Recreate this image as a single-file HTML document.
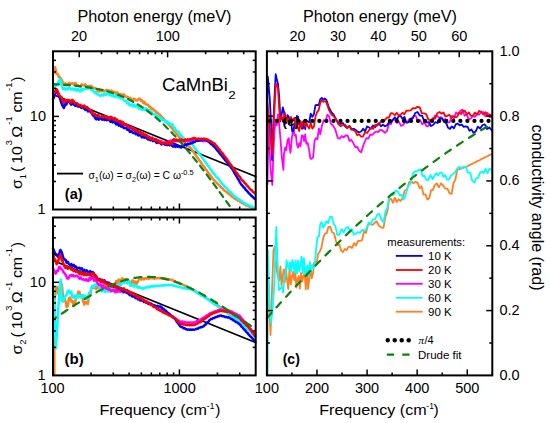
<!DOCTYPE html>
<html><head><meta charset="utf-8"><style>html,body{margin:0;padding:0;background:#fff;width:550px;height:423px;overflow:hidden}svg{display:block}text{font-family:"Liberation Sans",sans-serif;fill:#000}</style></head>
<body><svg width="550" height="423" viewBox="0 0 550 423" font-family="Liberation Sans, sans-serif">
<rect width="550" height="423" fill="#fff"/>
<g id="curves"><polyline points="53.0,94.5 255.7,176.5" fill="none" stroke="#000" stroke-width="1.8" stroke-linejoin="round" stroke-linecap="round" /><polyline points="53.0,74.5 54.0,71.3 55.1,67.3 56.5,73.8 57.7,73.9 59.0,77.3 60.2,77.5 61.7,79.9 63.1,83.3 64.2,84.4 65.3,83.3 66.4,85.3 67.5,84.7 68.8,83.0 70.0,83.5 71.2,83.8 72.3,83.1 73.5,84.5 74.7,83.3 75.8,83.3 76.9,85.8 78.0,85.2 79.1,86.2 80.4,86.5 81.7,84.4 83.0,85.0 84.2,85.8 85.4,84.4 86.6,87.1 87.8,86.2 88.9,86.1 90.0,86.8 91.1,85.9 92.2,86.9 93.6,88.6 95.0,88.0 96.5,89.0 98.0,91.3 99.2,91.6 100.4,90.4 101.7,91.2 102.9,90.3 104.1,91.3 105.3,90.5 106.5,89.9 107.7,91.2 108.9,90.4 110.1,91.5 111.3,90.5 112.5,91.3 113.7,92.3 114.9,92.0 116.2,93.8 117.4,92.4 118.6,94.6 119.8,94.2 121.1,94.2 122.4,96.3 123.7,94.4 125.0,95.9 126.3,97.0 127.6,96.8 128.9,99.0 130.2,97.8 131.5,99.5 132.6,100.3 133.7,98.8 134.8,98.9 135.9,100.3 137.4,100.6 138.8,98.8 139.9,98.7 141.1,101.0 142.2,100.5 143.4,103.2 144.5,101.9 145.7,104.5 146.8,104.6 148.0,104.7 149.2,106.7 150.4,106.9 151.6,109.2 152.8,108.7 153.9,110.4 155.1,110.6 156.3,112.5 157.5,112.6 158.7,114.1 159.9,114.8 161.1,116.0 162.4,117.7 163.6,118.6 164.9,120.4 166.1,121.4 167.4,123.1 168.6,124.3 169.8,125.7 171.0,127.3 172.2,128.4 173.5,130.4 174.7,131.3 175.9,133.0 177.1,134.6 178.3,135.8 179.6,137.5 180.8,138.5 182.0,140.5 183.2,141.7 184.5,142.6 185.8,144.2 187.1,144.9 188.3,146.3 189.6,146.9 190.9,148.3 192.1,150.2 193.3,151.5 194.5,153.5 195.7,154.9 196.9,157.0 198.1,158.4 199.3,160.4 200.5,161.6 201.7,163.5 202.9,165.5 204.1,166.6 205.3,168.8 206.5,170.1 207.8,172.1 209.0,173.5 210.2,175.4 211.4,176.7 212.6,178.7 213.8,180.1 215.0,181.0 216.2,182.5 217.4,183.4 218.7,184.9 219.9,185.8 221.1,187.4 222.3,188.2 223.5,189.6 224.7,190.8 225.9,191.4 227.1,192.6 228.3,193.4 229.5,194.5 230.7,195.2 231.9,196.6 233.1,197.1 234.3,198.3 235.5,199.3 236.7,199.5 237.9,200.6 239.1,200.9 240.4,202.1 241.6,202.6 242.8,203.4 244.0,204.0 245.2,204.8 246.4,205.6 247.6,205.7 248.9,206.5 250.1,206.7 251.3,207.6 252.6,207.9 253.8,208.6 255.0,209.0" fill="none" stroke="#ff8020" stroke-width="2.5" stroke-linejoin="round" stroke-linecap="round" /><polyline points="53.0,87.6 54.2,88.2 55.3,85.0 56.5,85.5 57.7,83.6 59.0,80.8 60.2,78.9 61.7,85.1 63.1,89.1 64.3,88.0 65.5,89.8 66.8,88.2 68.0,89.5 69.2,87.6 70.4,88.4 71.6,89.6 72.9,88.6 74.1,90.0 75.4,88.9 76.6,90.9 77.9,88.9 79.1,90.5 80.3,91.4 81.5,89.1 82.6,90.3 83.8,88.8 85.0,89.0 86.1,88.9 87.2,88.0 88.2,88.7 89.3,87.6 90.4,87.9 91.4,90.1 92.5,89.2 93.6,91.3 94.8,92.9 96.0,92.2 97.1,94.4 98.3,94.5 99.5,95.6 100.7,95.9 102.0,94.6 103.2,95.5 104.5,93.1 105.7,95.0 107.0,93.4 108.2,93.5 109.4,95.1 110.6,93.4 111.8,95.9 113.1,94.3 114.3,96.9 115.5,96.4 116.7,95.6 117.9,97.5 119.1,95.9 120.3,98.5 121.5,97.2 122.7,97.8 123.8,100.4 125.0,101.0 126.2,100.9 127.3,103.5 128.5,102.9 129.6,105.3 130.8,105.4 132.0,104.4 133.1,106.4 134.3,104.8 135.4,106.6 136.6,106.1 137.7,105.7 138.8,108.7 139.9,107.6 141.0,109.0 142.2,109.8 143.3,107.8 144.5,110.0 145.6,108.3 146.8,109.0 148.0,110.3 149.2,110.1 150.4,112.5 151.7,112.0 152.9,114.4 154.1,114.1 155.3,114.4 156.6,116.9 157.8,116.0 159.1,118.6 160.3,117.3 161.6,119.8 162.8,119.9 164.0,119.8 165.3,122.0 166.5,121.0 167.8,123.0 169.0,122.6 170.3,124.4 171.5,124.3 172.7,124.6 173.9,128.0 175.0,128.3 176.2,131.1 177.4,131.5 178.6,131.8 179.9,135.1 181.1,134.9 182.4,137.3 183.6,137.6 184.9,139.6 186.1,140.3 187.3,140.7 188.5,141.8 189.7,141.9 190.9,143.0 192.1,144.7 193.3,145.9 194.5,148.0 195.7,149.1 196.9,150.9 198.1,152.0 199.3,154.1 200.5,155.1 201.7,157.0 202.9,158.8 204.1,160.2 205.3,162.2 206.5,163.5 207.8,165.5 209.0,166.8 210.2,168.9 211.4,170.2 212.6,172.2 213.8,173.7 215.0,174.9 216.2,176.8 217.4,177.9 218.7,179.5 219.9,180.6 221.1,182.5 222.3,183.7 223.5,185.2 224.7,186.8 225.9,187.5 227.1,188.9 228.3,189.9 229.5,191.5 230.7,192.2 231.9,193.8 233.1,194.7 234.3,196.1 235.5,197.0 236.7,197.6 237.9,198.9 239.1,199.2 240.4,200.6 241.6,200.9 242.8,202.3 244.0,202.6 245.2,203.7 246.4,204.4 247.6,204.7 248.9,205.5 250.1,205.7 251.3,206.5 252.6,206.8 253.8,207.7 255.0,208.0" fill="none" stroke="#00ffff" stroke-width="2.5" stroke-linejoin="round" stroke-linecap="round" /><polyline points="53.0,97.8 54.5,95.4 56.0,92.0 57.0,91.6 58.0,93.0 59.5,97.2 61.0,100.0 62.5,101.6 64.0,105.0 65.3,104.6 66.7,102.0 68.0,101.0 69.2,101.7 70.4,100.6 71.6,102.8 72.8,102.1 74.0,103.0 75.2,105.0 76.4,103.4 77.6,106.0 78.8,104.6 80.0,106.0 81.1,107.4 82.3,106.4 83.4,108.2 84.6,106.5 85.7,109.0 86.9,107.5 88.0,109.0 89.2,111.2 90.4,111.1 91.6,113.7 92.8,112.9 94.0,115.0 95.2,115.9 96.3,115.4 97.5,117.2 98.7,115.6 99.8,117.7 101.0,117.0 102.2,116.0 103.4,118.5 104.7,116.4 105.9,118.6 107.1,117.0 108.3,119.1 109.6,117.3 110.8,120.0 112.0,119.0 113.2,119.2 114.4,120.5 115.5,120.2 116.7,122.4 117.9,121.0 119.1,123.2 120.3,122.2 121.5,124.1 122.6,123.3 123.8,125.1 125.0,125.0 126.2,124.8 127.5,127.2 128.8,125.8 130.0,128.6 131.2,127.1 132.5,130.1 133.8,128.4 135.0,131.3 136.2,130.6 137.5,132.8 138.8,131.1 140.0,133.0 141.2,134.7 142.5,133.3 143.8,135.7 145.0,134.9 146.2,137.0 147.5,135.7 148.8,137.6 150.0,137.4 151.2,139.3 152.5,137.6 153.8,139.8 155.0,140.0 156.2,139.3 157.5,141.4 158.8,140.7 160.0,142.0 161.2,140.9 162.5,143.4 163.8,142.3 165.0,143.0 166.3,143.3 167.6,141.7 168.9,142.4 170.2,140.4 171.5,140.5 172.7,141.6 173.8,139.4 174.9,141.4 176.1,139.5 177.2,141.3 178.4,140.5 179.6,141.7 180.7,140.6 181.8,141.4 183.0,141.0 184.2,140.2 185.4,141.5 186.6,140.2 187.8,140.7 189.0,139.3 190.2,140.6 191.4,138.9 192.6,140.8 193.8,139.1 195.0,139.5 196.2,140.2 197.4,139.2 198.5,140.6 199.7,139.4 200.9,140.8 202.1,139.7 203.3,141.3 204.5,140.0 205.6,141.2 206.8,140.2 208.0,141.0 209.2,142.0 210.3,142.0 211.5,143.8 212.7,143.2 213.8,144.9 215.0,145.0" fill="none" stroke="#ff00ff" stroke-width="2.5" stroke-linejoin="round" stroke-linecap="round" /><polyline points="53.0,99.3 54.2,96.5 55.3,92.1 56.5,89.1 57.6,92.8 58.7,94.9 59.9,98.0 61.0,102.0 62.4,105.4 63.8,108.0 65.0,104.8 66.3,104.5 67.5,100.7 68.8,100.6 70.0,103.0 71.3,104.6 72.7,103.4 74.0,104.4 75.3,105.8 76.5,104.8 77.8,106.5 79.1,106.5 80.3,106.5 81.5,107.8 82.8,106.3 84.0,108.0 85.3,109.9 86.7,108.3 88.0,111.4 89.3,110.9 90.7,111.5 92.0,113.0 93.0,115.4 94.1,115.5 95.1,118.2 96.3,119.4 97.5,117.1 98.8,119.7 100.0,118.5 101.2,118.3 102.3,119.8 103.5,118.0 104.7,120.0 105.9,118.8 107.0,120.2 108.2,119.6 109.3,119.7 110.5,121.8 111.6,119.8 112.7,122.4 113.9,121.4 115.0,122.5 116.2,124.4 117.5,123.0 118.8,125.7 120.0,124.0 121.2,126.7 122.5,125.8 123.8,128.1 125.0,127.9 126.2,127.9 127.4,129.8 128.7,129.5 129.9,131.9 131.1,131.3 132.3,132.3 133.5,133.1 134.7,132.4 135.9,134.3 137.1,133.4 138.3,135.5 139.5,135.2 140.7,135.1 141.9,137.4 143.2,136.2 144.4,137.8 145.6,137.2 146.8,138.1 148.0,139.5 149.2,138.5 150.4,140.2 151.7,139.0 152.9,141.1 154.1,141.0 155.3,140.6 156.6,143.0 157.8,141.9 159.1,143.0 160.3,142.6 161.6,144.5 162.8,143.9 164.0,143.3 165.1,144.8 166.2,143.9 167.4,145.1 168.6,144.2 169.7,145.4 170.8,144.4 172.0,145.5 173.1,146.7 174.3,144.9 175.4,147.0 176.6,145.3 177.7,146.8 178.9,146.4 180.0,147.0 181.2,147.5 182.5,145.4 183.7,146.1 185.0,144.4 186.2,145.4 187.5,143.7 188.7,143.9 189.9,143.8 191.2,142.7 192.4,142.9 193.7,141.9 194.9,141.9 196.2,140.6 197.4,140.7 198.7,140.8 199.9,140.2 201.2,140.2 202.5,139.7 203.7,140.1 205.0,139.5 206.1,139.9 207.2,140.9 208.3,141.3 209.6,142.4 210.9,144.0 212.2,144.7 213.5,146.1 214.8,147.2 216.0,148.7 217.3,150.4 218.5,151.7 219.8,153.6 221.0,154.8 222.3,156.5 223.5,158.0 224.7,159.4 226.0,161.2 227.2,162.4 228.5,164.3 229.7,165.6 231.0,167.6 232.2,168.9 233.4,170.9 234.7,173.5 235.9,175.2 237.2,177.6 238.4,179.5 239.7,181.9 240.9,184.0 242.1,185.3 243.4,187.0 244.6,188.0 245.9,190.0 247.1,191.0 248.4,192.6 249.6,194.0 250.7,194.9 251.8,196.1 252.8,196.9 253.9,198.1 255.0,199.0" fill="none" stroke="#0000ff" stroke-width="2.5" stroke-linejoin="round" stroke-linecap="round" /><polyline points="53.0,93.5 54.0,93.3 55.0,91.0 56.1,89.6 57.3,90.5 58.8,94.7 60.2,96.4 61.4,96.9 62.6,101.4 63.8,102.2 65.0,100.1 66.3,101.1 67.5,100.0 68.8,99.9 70.0,101.5 71.1,102.6 72.2,99.9 73.3,100.7 74.7,103.2 76.0,103.0 77.0,103.3 78.1,105.2 79.1,105.1 80.4,104.8 81.7,106.6 83.0,106.0 84.2,105.6 85.4,107.3 86.6,107.0 87.8,108.0 88.9,109.6 90.0,110.0 91.2,110.0 92.4,113.7 93.6,113.8 94.7,113.7 95.9,115.8 97.0,115.0 98.3,115.1 99.6,117.1 100.9,116.7 102.2,116.5 103.5,117.4 104.7,116.1 106.0,117.5 107.3,118.1 108.6,117.3 109.9,119.3 111.2,116.8 112.5,118.2 113.6,119.3 114.7,118.0 115.8,120.7 116.9,119.4 118.0,121.0 119.2,122.0 120.3,120.8 121.5,123.6 122.7,121.9 123.8,125.0 125.0,124.3 126.2,124.4 127.4,126.4 128.7,126.0 129.9,127.6 131.1,127.6 132.3,128.6 133.5,129.8 134.7,129.0 135.9,130.7 137.1,130.1 138.3,132.3 139.5,132.3 140.7,132.3 141.9,134.6 143.2,133.4 144.4,135.3 145.6,134.6 146.8,135.9 148.0,137.5 149.2,136.8 150.4,138.9 151.7,138.0 152.9,139.9 154.1,139.5 155.3,139.0 156.5,141.0 157.8,140.3 159.0,142.6 160.2,141.8 161.4,143.2 162.7,143.5 163.9,142.9 165.2,143.6 166.4,142.0 167.7,143.6 169.0,142.2 170.2,144.3 171.5,143.2 173.0,140.3 174.3,139.2 175.6,140.8 176.8,139.8 178.1,140.9 179.4,139.5 180.6,140.6 181.9,139.6 183.2,140.3 184.3,141.0 185.4,139.4 186.5,140.3 187.6,139.3 188.7,140.0 189.9,139.8 191.1,138.9 192.4,139.3 193.6,137.9 194.8,138.1 196.1,138.9 197.4,139.1 198.7,138.5 199.9,139.3 201.2,138.7 202.5,139.1 203.7,138.7 205.0,138.8 206.1,139.3 207.2,139.5 208.3,140.0 209.6,141.0 210.9,141.3 212.2,142.4 213.5,143.0 214.8,143.9 216.0,145.8 217.3,146.8 218.5,148.7 219.8,150.0 221.0,151.9 222.3,153.0 223.5,154.8 224.7,156.7 226.0,158.0 227.2,160.0 228.5,161.3 229.7,163.4 231.0,164.8 232.2,166.7 233.4,168.7 234.7,170.0 235.9,172.1 237.2,173.3 238.4,175.5 239.7,176.7 240.9,178.7 242.1,180.2 243.4,181.3 244.6,183.0 245.9,184.0 247.1,185.8 248.4,186.9 249.6,188.5 250.7,189.8 251.8,190.2 252.8,191.8 253.9,192.3 255.0,193.5" fill="none" stroke="#ff0000" stroke-width="2.5" stroke-linejoin="round" stroke-linecap="round" /><polyline points="53.0,84.2 54.1,84.2 55.2,84.3 56.3,84.3 57.3,84.4 58.4,84.4 59.5,84.5 60.6,84.6 61.7,84.6 62.8,84.7 63.9,84.8 65.0,84.9 66.0,84.9 67.1,85.0 68.2,85.1 69.3,85.2 70.4,85.3 71.5,85.4 72.6,85.5 73.7,85.6 74.7,85.7 75.8,85.8 76.9,85.9 78.0,86.0 79.1,86.1 80.2,86.2 81.3,86.4 82.4,86.5 83.4,86.6 84.5,86.8 85.6,86.9 86.7,87.1 87.8,87.3 88.9,87.4 90.0,87.6 91.0,87.8 92.1,88.0 93.2,88.1 94.3,88.3 95.4,88.5 96.5,88.8 97.6,89.0 98.7,89.2 99.7,89.4 100.8,89.7 101.9,89.9 103.0,90.2 104.1,90.5 105.2,90.7 106.3,91.0 107.4,91.3 108.4,91.6 109.5,92.0 110.6,92.3 111.7,92.6 112.8,93.0 113.9,93.3 115.0,93.7 116.0,94.1 117.1,94.5 118.2,94.9 119.3,95.3 120.4,95.7 121.5,96.2 122.6,96.6 123.7,97.1 124.7,97.6 125.8,98.0 126.9,98.6 128.0,99.1 129.1,99.6 130.2,100.2 131.3,100.7 132.4,101.3 133.4,101.9 134.5,102.5 135.6,103.1 136.7,103.8 137.8,104.4 138.9,105.1 140.0,105.8 141.1,106.5 142.1,107.2 143.2,107.9 144.3,108.7 145.4,109.4 146.5,110.2 147.6,111.0 148.7,111.8 149.7,112.6 150.8,113.5 151.9,114.3 153.0,115.2 154.1,116.1 155.2,117.0 156.3,117.9 157.4,118.9 158.4,119.8 159.5,120.8 160.6,121.8 161.7,122.8 162.8,123.8 163.9,124.8 165.0,125.8 166.1,126.9 167.1,128.0 168.2,129.0 169.3,130.1 170.4,131.2 171.5,132.4 172.6,133.5 173.7,134.7 174.8,135.8 175.8,137.0 176.9,138.2 178.0,139.4 179.1,140.6 180.2,141.8 181.3,143.0 182.4,144.3 183.4,145.5 184.5,146.8 185.6,148.1 186.7,149.4 187.8,150.7 188.9,152.0 190.0,153.3 191.1,154.6 192.1,156.0 193.2,157.3 194.3,158.6 195.4,160.0 196.5,161.4 197.6,162.8 198.7,164.1 199.8,165.5 200.8,166.9 201.9,168.3 203.0,169.7 204.1,171.2 205.2,172.6 206.3,174.0 207.4,175.4 208.4,176.9 209.5,178.3 210.6,179.8 211.7,181.2 212.8,182.7 213.9,184.2 215.0,185.6 216.1,187.1 217.1,188.6 218.2,190.1 219.3,191.6 220.4,193.1 221.5,194.6 222.6,196.1 223.7,197.6 224.8,199.1 225.8,200.6 226.9,202.1 228.0,203.6 229.1,205.2 230.2,206.7 231.3,208.2" fill="none" stroke="#0f800f" stroke-width="2.2" stroke-linejoin="round" stroke-linecap="round" stroke-dasharray="6,5" stroke-linecap="butt"/><line x1="57" y1="173.6" x2="83" y2="173.6" stroke="#000" stroke-width="1.8"/><text x="88.5" y="179" font-size="10.6" textLength="105" lengthAdjust="spacingAndGlyphs">σ<tspan font-size="7.5" dy="2.5">1</tspan><tspan dy="-2.5">(ω) = σ</tspan><tspan font-size="7.5" dy="2.5">2</tspan><tspan dy="-2.5">(ω) = C ω</tspan><tspan font-size="7.5" dy="-4.5">-0.5</tspan></text><polyline points="53.0,260.5 255.7,342.5" fill="none" stroke="#000" stroke-width="1.8" stroke-linejoin="round" stroke-linecap="round" /><polyline points="54.3,374.0 54.3,330.0 54.5,300.0 55.9,289.2 57.1,286.8 58.3,293.9 59.5,290.2 60.7,282.1 61.9,285.1 63.0,296.9 64.2,298.7 65.4,300.6 66.6,307.0 67.8,306.2 68.9,298.1 70.1,297.5 71.3,301.6 72.5,300.7 73.7,305.8 74.9,305.0 76.1,295.5 77.2,296.2 78.4,291.6 79.6,292.3 80.8,297.3 81.9,295.4 83.1,301.0 84.3,304.6 85.5,301.7 86.7,303.4 87.9,303.8 89.1,293.1 90.2,296.1 91.4,287.5 92.6,286.8 93.8,288.0 95.0,286.0 96.2,289.1 97.3,285.9 98.5,288.1 99.7,285.4 100.9,287.6 102.1,286.8 103.3,285.0 104.4,289.4 105.6,284.5 106.8,290.2 108.0,285.7 109.2,290.7 110.3,286.3 111.5,289.2 112.7,290.0 113.9,285.3 115.1,289.2 116.2,280.9 117.4,286.3 118.6,279.4 119.8,282.5 121.0,279.7 122.3,278.2 123.7,280.5 125.0,279.0 126.2,279.3 127.5,283.1 128.8,280.8 130.0,283.1 131.1,284.1 132.2,280.4 133.3,280.6 134.4,283.4 135.5,281.5 136.6,284.0 137.8,281.8 139.1,279.0 140.3,278.5 141.5,279.7 142.7,278.2 143.9,279.5 145.0,278.1 146.2,278.7 147.4,277.9 148.6,278.9 149.8,278.2 151.0,277.9 152.1,278.4 153.3,278.0 154.4,278.7 155.6,277.8 156.8,278.3 157.9,278.1 159.1,278.3 160.2,278.1 161.4,278.2 162.7,278.7 163.9,278.5 165.2,279.0 166.4,278.8 167.7,279.3 168.9,279.2 170.2,279.7 171.4,279.8 172.6,280.1 173.7,280.9 174.9,281.1 176.0,281.9 177.2,282.2 178.4,283.1 179.5,283.0 180.7,283.9 181.8,284.0 183.0,284.8 184.2,285.5 185.3,285.8 186.5,286.8 187.6,286.9 188.8,287.8 190.0,288.0 191.1,289.0 192.3,289.3 193.4,290.3 194.6,290.6 195.8,291.2 196.9,292.2 198.1,292.7 199.2,293.6 200.4,294.1 201.5,295.1 202.7,295.5 203.8,296.6 205.0,297.2 206.2,297.8 207.3,299.0 208.5,299.3 209.7,300.4 210.8,300.7 212.0,301.8 213.2,302.4 214.3,303.5 215.5,304.0 216.7,304.5 217.9,305.7 219.0,306.3 220.2,307.4 221.4,307.7 222.6,308.9 223.8,309.3 224.9,310.7 226.1,311.0 227.3,312.0 228.5,313.0 229.7,313.5 230.9,314.5 232.1,314.9 233.2,316.1 234.4,316.6 235.6,317.7 236.8,318.1 238.0,319.4 239.2,320.0 240.4,321.0 241.6,322.3 242.7,323.1 243.9,324.5 245.1,325.4 246.3,326.8 247.5,327.4 248.6,329.0 249.8,329.8 251.0,331.0 252.3,332.9 253.7,334.2 255.0,336.0" fill="none" stroke="#ff8020" stroke-width="2.5" stroke-linejoin="round" stroke-linecap="round" /><polyline points="53.5,286.8 54.7,322.3 55.9,348.4 57.1,329.7 58.3,308.1 59.5,292.1 60.7,279.7 61.8,301.0 63.0,301.6 64.2,298.7 65.4,295.9 66.6,295.1 67.7,291.3 68.9,290.4 70.1,293.2 71.3,291.9 72.5,297.5 73.7,297.5 74.9,295.7 76.1,298.6 77.2,295.2 78.4,297.4 79.6,295.2 80.8,296.3 82.0,297.5 83.2,295.0 84.3,298.1 85.5,296.0 86.7,298.9 87.9,298.7 89.1,293.8 90.2,293.3 91.4,287.8 92.6,285.7 93.8,287.3 94.9,284.6 96.1,285.3 97.3,284.5 98.5,283.6 99.7,288.2 100.8,287.5 102.0,291.4 103.2,288.4 104.4,291.6 105.6,291.9 106.8,289.9 108.0,291.4 109.2,289.5 110.3,291.6 111.5,289.1 112.7,291.1 113.9,289.2 115.1,287.8 116.3,288.1 117.5,284.8 118.7,286.7 119.8,283.7 121.0,285.2 122.2,281.8 123.4,282.1 124.6,283.0 125.9,281.4 127.1,283.1 128.3,281.5 129.4,281.1 130.5,285.9 131.6,285.6 132.8,284.6 134.1,286.7 135.3,285.5 136.6,286.4 137.9,287.9 139.2,286.5 140.6,288.3 141.9,288.0 143.2,289.0 144.9,287.4 146.1,287.7 147.3,286.6 148.5,287.7 149.7,286.3 150.9,286.8 152.1,286.0 153.3,286.7 154.5,285.9 155.7,286.3 156.9,285.7 158.1,285.8 159.3,285.9 160.5,285.4 161.7,285.7 162.9,285.3 164.1,285.5 165.4,285.1 166.6,285.4 167.8,285.1 169.0,285.3 170.2,284.9 171.4,285.0 172.6,285.4 173.7,285.4 174.9,286.0 176.0,286.1 177.2,286.7 178.4,286.5 179.5,287.3 180.7,287.1 181.8,287.8 183.0,288.0 184.3,287.9 185.5,288.6 186.8,288.5 188.0,289.1 189.3,288.8 190.5,289.3 191.8,289.5 193.0,290.1 194.2,291.2 195.4,291.5 196.6,292.5 197.8,293.0 198.9,293.8 200.1,294.3 201.3,295.5 202.5,295.6 203.7,296.6 204.9,297.6 206.1,298.2 207.2,299.2 208.4,299.7 209.6,301.0 210.8,301.4 212.0,302.5 213.1,303.1 214.3,304.2 215.5,304.9 216.7,305.5 217.9,306.7 219.0,307.1 220.2,308.5 221.4,308.9 222.6,309.9 223.8,310.4 224.9,311.6 226.1,312.0 227.3,313.1 228.5,314.1 229.7,314.5 230.9,315.8 232.1,316.3 233.2,317.4 234.4,318.0 235.6,319.1 236.8,319.5 238.0,320.7 239.2,321.4 240.4,322.2 241.6,323.7 242.7,324.5 243.9,325.8 245.1,326.5 246.3,328.0 247.5,328.7 248.6,330.2 249.8,330.7 251.0,332.1 252.3,334.0 253.7,335.2 255.0,337.0" fill="none" stroke="#00ffff" stroke-width="2.5" stroke-linejoin="round" stroke-linecap="round" /><polyline points="53.0,268.0 54.4,271.4 55.7,273.6 56.8,270.8 57.9,271.3 58.9,267.2 60.0,266.8 61.1,268.9 62.2,269.4 63.4,272.1 64.5,273.2 65.9,275.3 67.3,278.6 68.5,278.5 69.7,275.8 70.9,275.0 72.1,276.1 73.2,275.0 74.3,276.4 75.5,276.0 76.8,275.6 78.2,276.8 79.3,278.7 80.5,277.2 81.6,279.1 82.7,279.5 83.8,279.2 85.0,280.4 86.2,279.0 87.3,280.5 88.4,281.0 89.5,278.0 90.7,279.6 91.8,277.7 93.0,277.6 94.1,280.8 95.2,279.4 96.4,281.4 97.8,283.7 99.2,285.0 100.4,284.4 101.6,286.8 102.8,285.5 104.0,287.9 105.2,286.8 106.4,288.7 107.6,287.9 108.8,289.7 110.0,289.2 111.2,291.2 112.4,290.6 113.6,289.7 114.9,292.1 116.1,290.1 117.3,292.0 118.5,290.3 119.8,291.8 121.0,291.6 122.2,290.8 123.4,292.5 124.6,291.6 125.8,292.6 127.0,291.5 128.2,292.9 129.4,292.5 130.6,292.4 131.8,294.5 132.9,293.7 134.1,295.3 135.3,294.9 136.5,296.6 137.6,296.4 138.8,297.7 140.0,298.0 141.2,298.3 142.5,299.7 143.8,299.6 145.0,301.8 146.2,301.3 147.5,303.1 148.8,302.5 150.0,304.0 151.2,304.8 152.5,305.0 153.8,306.4 155.0,305.9 156.2,307.6 157.5,307.6 158.8,308.7 160.0,309.0 161.2,309.3 162.5,310.9 163.8,310.9 165.0,312.1 166.2,312.4 167.5,313.7 168.8,314.0 170.0,315.0 171.2,316.0 172.5,316.5 173.8,317.8 175.0,318.5 176.2,319.0 177.5,320.1 178.8,320.5 180.0,321.4 181.2,321.8 182.4,321.6 183.6,322.1 184.7,322.0 185.9,322.5 187.1,322.6 188.3,322.5 189.5,322.7 190.6,322.4 191.8,322.7 193.0,322.5 194.2,322.6 195.4,322.1 196.6,321.2 197.8,321.0 198.9,320.1 200.1,319.8 201.3,319.1 202.5,318.2 203.7,317.7 204.9,316.8 206.1,316.2 207.2,315.1 208.4,314.7 209.6,313.7 210.8,313.1 212.0,312.8 213.2,312.0 214.3,311.9 215.5,311.2 216.7,311.1 217.8,310.2 219.0,310.1 220.2,309.6 221.4,309.6 222.6,310.1 223.8,309.8 224.9,310.4 226.1,310.2 227.3,310.7 228.5,310.5 229.7,310.8 230.9,311.5 232.1,311.8 233.3,312.8 234.4,312.9 235.6,313.9 236.8,314.1 238.0,315.2 239.2,315.5 240.4,316.7 241.5,318.4 242.7,319.4 243.9,321.0 245.1,322.1 246.2,323.6 247.4,324.7 248.6,326.2 249.9,328.0 251.2,329.6 252.4,331.6 253.7,333.0 255.0,335.0" fill="none" stroke="#ff00ff" stroke-width="2.5" stroke-linejoin="round" stroke-linecap="round" /><polyline points="53.0,248.1 54.4,251.8 55.7,254.7 56.7,254.5 57.6,256.6 59.0,254.4 60.4,250.0 61.8,252.4 63.2,257.6 64.3,259.5 65.5,259.7 66.6,262.7 67.8,261.8 68.9,264.2 70.1,265.3 71.3,264.1 72.5,266.4 73.7,264.9 74.8,267.0 76.0,266.5 77.2,268.8 78.4,268.0 79.6,267.8 80.8,269.5 81.9,268.2 83.1,270.8 84.3,269.9 85.5,271.7 86.6,270.2 87.8,271.7 88.9,272.4 90.1,271.1 91.2,272.7 92.4,271.9 93.5,272.7 94.8,275.0 96.0,276.0 97.3,278.4 98.5,280.2 99.6,278.7 100.8,281.2 101.9,279.7 103.1,281.8 104.3,280.3 105.4,282.9 106.6,282.1 107.8,283.8 108.9,282.6 110.1,284.4 111.2,284.1 112.4,285.0 113.7,286.8 114.9,285.5 116.2,287.4 117.4,286.9 118.7,288.7 120.0,287.8 121.2,290.2 122.5,289.8 123.7,291.8 125.0,291.4 126.2,291.8 127.4,293.3 128.6,293.3 129.7,295.2 130.9,294.6 132.1,296.4 133.3,296.4 134.5,296.7 135.7,298.2 136.9,297.4 138.0,299.4 139.2,298.8 140.4,300.5 141.6,300.5 142.8,300.5 143.9,302.0 145.1,301.7 146.3,302.9 147.5,302.5 148.6,304.0 149.8,303.8 151.1,303.5 152.3,304.8 153.6,304.9 154.8,305.5 156.1,306.3 157.4,305.8 158.8,306.6 160.1,306.4 161.4,307.1 162.5,308.5 163.6,308.8 164.8,310.2 165.9,310.7 167.0,312.3 168.1,312.9 169.4,313.9 170.7,315.3 172.1,316.2 173.4,317.6 174.7,318.5 176.0,320.3 177.3,322.5 178.7,324.1 180.0,326.2 181.2,326.9 182.4,327.2 183.6,328.2 184.7,328.3 185.9,329.2 187.1,329.7 188.3,329.4 189.5,329.8 190.6,329.6 191.8,329.8 193.0,329.6 194.2,329.7 195.4,329.4 196.6,328.7 197.8,328.7 198.9,327.8 200.1,327.6 201.3,326.9 202.5,326.9 203.7,326.2 204.9,324.9 206.1,324.1 207.2,322.5 208.4,321.7 209.6,320.1 210.8,319.1 212.0,318.9 213.2,318.0 214.3,317.9 215.5,317.0 216.7,317.0 217.8,316.2 219.0,316.2 220.2,315.5 221.4,315.6 222.6,316.3 223.8,316.3 224.9,317.0 226.1,316.8 227.3,317.4 228.5,317.3 229.7,317.9 230.9,318.8 232.1,319.2 233.3,320.2 234.4,320.8 235.6,321.7 236.8,322.1 238.0,323.2 239.2,323.8 240.4,325.0 241.5,326.6 242.7,327.6 243.9,329.3 245.1,330.2 246.2,331.9 247.4,332.9 248.6,334.4 249.9,335.9 251.2,336.9 252.4,338.5 253.7,339.6 255.0,341.0" fill="none" stroke="#0000ff" stroke-width="2.5" stroke-linejoin="round" stroke-linecap="round" /><polyline points="53.0,252.8 54.2,258.1 55.4,260.1 56.6,264.2 57.9,262.2 59.1,257.4 60.4,254.7 61.7,260.0 62.9,262.0 64.2,266.1 65.4,267.9 66.6,266.0 67.7,268.8 68.9,268.0 70.1,267.1 71.2,269.6 72.4,268.9 73.6,271.2 74.7,270.1 75.9,271.8 77.0,271.2 78.2,272.3 79.3,273.9 80.5,271.7 81.6,274.5 82.8,273.1 83.9,275.3 85.0,273.5 86.2,275.2 87.3,275.0 88.4,273.9 89.5,275.0 90.5,273.6 91.6,274.4 92.7,273.2 93.8,273.8 94.9,276.6 96.0,275.7 97.1,279.2 98.2,279.5 99.3,279.4 100.5,281.8 101.6,279.9 102.8,282.5 103.9,281.1 105.0,283.2 106.2,283.0 107.3,284.0 108.6,284.9 109.8,283.7 111.1,286.4 112.4,285.9 113.7,285.3 114.9,287.2 116.2,286.3 117.4,288.6 118.7,287.5 120.0,288.6 121.2,288.3 122.5,289.7 123.7,288.3 125.0,289.8 126.2,291.2 127.4,290.3 128.6,292.3 129.7,291.7 130.9,293.9 132.1,292.8 133.3,293.9 134.5,295.0 135.7,294.8 136.9,296.9 138.0,296.3 139.2,298.4 140.4,297.7 141.6,298.9 142.8,300.1 143.9,300.1 145.1,301.8 146.3,301.0 147.5,302.9 148.6,302.9 149.8,303.8 151.1,305.1 152.3,305.1 153.6,306.9 154.8,307.1 155.9,307.4 157.0,309.2 158.1,309.6 159.3,310.0 160.5,310.9 161.7,311.0 162.8,312.4 164.0,312.5 165.2,313.4 166.4,313.8 167.6,314.2 168.8,315.3 170.0,315.5 171.1,316.2 172.3,316.5 173.5,317.5 174.7,317.9 176.0,319.2 177.3,321.1 178.7,322.1 180.0,323.8 181.2,324.2 182.4,324.1 183.6,324.5 184.7,324.5 185.9,324.9 187.1,325.0 188.3,324.8 189.5,325.2 190.6,324.9 191.8,325.2 193.0,324.8 194.2,325.0 195.4,324.6 196.6,323.7 197.8,323.5 198.9,322.3 200.1,322.3 201.3,321.4 202.5,320.2 203.7,319.7 204.9,318.5 206.1,318.0 207.2,316.8 208.4,316.3 209.6,315.1 210.8,314.3 212.0,314.0 213.2,313.1 214.3,313.1 215.5,312.3 216.7,312.3 217.8,311.5 219.0,311.4 220.2,310.8 221.4,310.7 222.6,311.3 223.8,311.1 224.9,311.5 226.1,311.4 227.3,312.0 228.5,311.6 229.7,312.0 230.9,312.8 232.1,313.2 233.3,314.4 234.4,314.8 235.6,316.0 236.8,316.3 238.0,317.2 239.2,317.9 240.4,318.9 241.5,320.5 242.7,321.2 243.9,322.8 245.1,323.5 246.2,325.1 247.4,325.9 248.6,327.3 249.9,329.1 251.2,330.5 252.4,332.6 253.7,334.0 255.0,336.0" fill="none" stroke="#ff0000" stroke-width="2.5" stroke-linejoin="round" stroke-linecap="round" /><polyline points="53.0,319.7 54.1,318.9 55.2,318.2 56.3,317.4 57.3,316.7 58.4,315.9 59.5,315.2 60.6,314.5 61.7,313.7 62.8,313.0 63.9,312.3 65.0,311.5 66.0,310.8 67.1,310.1 68.2,309.4 69.3,308.7 70.4,307.9 71.5,307.2 72.6,306.5 73.7,305.8 74.7,305.1 75.8,304.4 76.9,303.7 78.0,303.1 79.1,302.4 80.2,301.7 81.3,301.0 82.4,300.4 83.4,299.7 84.5,299.1 85.6,298.4 86.7,297.8 87.8,297.1 88.9,296.5 90.0,295.9 91.0,295.2 92.1,294.6 93.2,294.0 94.3,293.4 95.4,292.8 96.5,292.2 97.6,291.6 98.7,291.1 99.7,290.5 100.8,289.9 101.9,289.4 103.0,288.9 104.1,288.3 105.2,287.8 106.3,287.3 107.4,286.8 108.4,286.3 109.5,285.8 110.6,285.3 111.7,284.9 112.8,284.4 113.9,284.0 115.0,283.5 116.0,283.1 117.1,282.7 118.2,282.3 119.3,281.9 120.4,281.6 121.5,281.2 122.6,280.8 123.7,280.5 124.7,280.2 125.8,279.9 126.9,279.6 128.0,279.3 129.1,279.1 130.2,278.8 131.3,278.6 132.4,278.3 133.4,278.1 134.5,277.9 135.6,277.8 136.7,277.6 137.8,277.5 138.9,277.3 140.0,277.2 141.1,277.1 142.1,277.0 143.2,276.9 144.3,276.9 145.4,276.9 146.5,276.8 147.6,276.8 148.7,276.8 149.7,276.9 150.8,276.9 151.9,277.0 153.0,277.0 154.1,277.1 155.2,277.2 156.3,277.3 157.4,277.5 158.4,277.6 159.5,277.8 160.6,278.0 161.7,278.2 162.8,278.4 163.9,278.6 165.0,278.8 166.1,279.1 167.1,279.4 168.2,279.6 169.3,279.9 170.4,280.3 171.5,280.6 172.6,280.9 173.7,281.3 174.8,281.6 175.8,282.0 176.9,282.4 178.0,282.8 179.1,283.2 180.2,283.6 181.3,284.0 182.4,284.5 183.4,284.9 184.5,285.4 185.6,285.9 186.7,286.4 187.8,286.9 188.9,287.4 190.0,287.9 191.1,288.4 192.1,289.0 193.2,289.5 194.3,290.0 195.4,290.6 196.5,291.2 197.6,291.7 198.7,292.3 199.8,292.9 200.8,293.5 201.9,294.1 203.0,294.7 204.1,295.3 205.2,296.0 206.3,296.6 207.4,297.2 208.4,297.9 209.5,298.5 210.6,299.2 211.7,299.8 212.8,300.5 213.9,301.2 215.0,301.8 216.1,302.5 217.1,303.2 218.2,303.9 219.3,304.6 220.4,305.3 221.5,306.0 222.6,306.7 223.7,307.4 224.8,308.1 225.8,308.8 226.9,309.5 228.0,310.2 229.1,310.9 230.2,311.7 231.3,312.4 232.4,313.1 233.5,313.9 234.5,314.6 235.6,315.3 236.7,316.1 237.8,316.8 238.9,317.6 240.0,318.3 241.1,319.0 242.1,319.8 243.2,320.5 244.3,321.3 245.4,322.1 246.5,322.8 247.6,323.6 248.7,324.3 249.8,325.1 250.8,325.9 251.9,326.6 253.0,327.4 254.1,328.2 255.2,328.9" fill="none" stroke="#0f800f" stroke-width="2.2" stroke-linejoin="round" stroke-linecap="round" stroke-dasharray="7,6.6" stroke-dashoffset="3" stroke-linecap="butt"/><polyline points="267.4,375.0 267.4,286.0 269.0,300.0 270.5,335.0 272.0,290.0 273.5,250.0 275.0,246.0 276.5,270.0 278.0,276.0 279.2,280.3 280.4,266.3 281.5,285.1 282.7,276.0 283.8,269.3 284.9,282.3 285.9,267.6 287.0,279.0 288.2,289.0 289.5,269.8 290.8,284.4 292.0,276.0 293.1,271.9 294.2,280.1 295.3,272.2 296.4,287.5 297.5,280.0 298.7,276.0 299.9,288.7 301.0,272.8 302.2,281.6 303.4,276.0 304.6,273.7 305.8,289.2 306.9,267.9 308.1,289.0 309.3,278.6 310.5,268.7 311.8,278.3 313.0,274.0 314.1,262.5 315.2,262.0 316.7,263.5 318.1,253.6 319.6,252.0 321.4,247.8 323.2,237.9 324.9,233.6 326.7,233.2 328.4,226.9 330.2,226.6 332.1,232.2 334.0,233.2 335.9,240.8 337.7,245.3 339.4,244.5 341.2,250.7 343.0,252.1 344.8,248.9 346.6,250.3 348.3,247.2 350.1,246.5 352.1,248.0 354.1,243.1 356.0,245.6 358.0,240.8 360.0,240.8 362.0,240.3 364.0,231.3 366.0,233.0 368.0,224.8 370.0,223.8 372.5,225.0 375.0,222.3 376.8,221.4 378.5,225.2 381.0,227.4 383.5,227.9 385.4,216.7 387.3,211.6 389.2,199.6 391.1,198.8 393.0,202.9 394.9,197.6 396.7,202.1 398.6,199.3 400.5,201.0 402.6,198.1 404.8,190.3 406.9,190.2 409.0,182.6 411.1,181.1 413.3,183.3 415.5,181.8 417.6,182.6 419.6,188.3 421.6,186.4 423.5,194.6 425.5,194.4 427.5,199.6 429.3,198.0 431.1,190.1 432.8,190.1 434.6,185.4 436.7,183.3 438.9,187.3 441.0,183.3 443.1,185.4 445.2,188.6 447.4,188.6 449.5,193.2 451.6,193.9 453.5,183.0 455.4,179.3 457.3,169.8 459.4,169.0 461.6,168.5 463.7,167.6 465.8,167.0 467.8,166.1 469.7,164.9 471.7,164.2 473.6,163.0 475.6,162.2 477.6,160.9 479.5,160.3 481.5,158.9 483.5,158.2 485.4,157.0 487.4,156.4 489.3,155.1 491.3,154.2" fill="none" stroke="#ff8020" stroke-width="1.8" stroke-linejoin="round" stroke-linecap="round" /><polyline points="267.5,375.0 267.5,320.0 267.8,250.0 269.5,300.0 271.0,323.0 272.5,310.0 274.0,290.0 275.5,250.0 276.3,227.0 277.5,262.0 279.0,290.0 282.0,287.0 283.1,292.4 284.3,275.5 285.4,276.6 286.6,260.4 287.7,266.0 288.8,269.0 290.0,262.3 291.1,271.8 292.3,259.8 293.4,264.0 294.6,272.9 295.7,260.6 296.9,273.7 298.1,260.3 299.2,271.3 300.4,265.0 301.6,256.7 302.8,273.2 303.9,258.1 305.1,274.5 306.3,268.0 307.4,265.8 308.6,276.3 309.8,261.9 310.9,272.1 312.1,264.8 313.2,268.0 314.6,266.4 316.0,250.0 317.4,237.6 318.9,236.6 320.3,224.0 321.7,221.9 323.2,227.7 324.6,225.2 326.4,221.1 328.1,223.2 329.9,216.8 331.7,216.7 333.6,224.0 335.4,226.1 337.3,235.1 339.4,234.7 341.6,229.1 343.8,232.6 345.9,228.0 347.9,227.0 349.9,231.2 351.8,228.9 353.8,234.7 355.8,233.7 357.9,232.0 360.1,233.0 362.2,229.8 364.3,230.9 366.4,228.7 368.6,222.5 370.7,224.1 372.8,219.5 375.0,219.4 377.1,214.8 379.3,213.8 381.4,219.6 383.5,222.3 385.4,211.7 387.3,207.9 389.2,196.7 391.3,194.0 393.4,195.3 395.6,190.6 397.7,191.1 399.6,195.2 401.5,194.9 403.4,199.6 405.3,196.6 407.1,188.6 409.0,185.4 410.9,182.7 412.8,174.2 414.7,171.2 416.9,171.3 419.0,169.8 420.8,169.5 422.6,176.1 424.3,175.7 426.1,179.7 428.2,180.1 430.4,175.0 432.5,179.2 434.6,175.5 436.4,173.1 438.1,175.5 439.9,172.6 441.7,172.6 443.5,176.9 445.2,175.2 447.0,179.6 448.8,179.7 450.9,175.6 453.0,174.0 455.1,172.4 457.3,168.4 459.4,166.8 461.6,168.6 463.7,166.7 465.8,167.0 467.9,172.6 470.1,172.6 472.2,180.6 474.3,182.6 476.2,178.3 478.1,177.9 480.0,172.6 481.9,171.5 483.8,173.1 485.6,168.9 487.5,173.2 489.4,168.8 491.3,169.8" fill="none" stroke="#00ffff" stroke-width="1.8" stroke-linejoin="round" stroke-linecap="round" /><polyline points="267.5,184.0 268.6,116.8 269.6,149.0 270.7,170.0 272.3,185.0 273.5,150.0 274.5,131.0 275.7,119.7 276.8,125.4 278.0,114.4 279.2,124.6 280.4,138.1 281.9,158.0 283.4,169.9 283.9,154.7 285.1,147.3 286.3,150.1 287.5,140.4 288.7,138.1 289.6,147.6 290.5,152.8 291.9,137.4 293.4,128.6 294.6,135.6 295.8,134.7 296.9,144.2 298.1,147.6 299.3,143.0 300.5,146.3 301.7,135.5 302.9,135.7 304.1,141.1 305.2,134.5 306.4,143.9 307.6,142.8 309.0,149.2 310.4,158.5 311.8,158.8 313.2,156.9 314.5,141.0 315.9,138.1 317.4,139.2 318.9,128.5 320.3,134.2 321.8,126.3 323.7,120.2 325.5,121.9 327.4,114.6 329.1,116.3 330.9,123.8 332.6,125.0 335.2,129.2 337.8,138.0 339.8,138.6 341.7,136.0 343.7,137.5 345.6,135.4 347.6,135.5 349.5,140.9 351.4,139.9 353.4,143.2 355.3,147.2 357.3,146.9 359.2,150.8 361.2,152.3 363.8,144.0 366.4,138.0 368.3,138.7 370.3,134.5 372.2,134.8 374.2,132.8 376.1,131.5 378.1,132.1 380.1,129.8 382.0,130.2 385.0,132.8 386.9,131.1 388.9,124.2 390.9,124.2 392.8,119.8 394.9,119.7 397.0,122.9 399.0,121.9 401.1,125.9 403.2,125.0 405.3,121.6 407.4,122.3 409.4,118.9 411.5,119.7 413.6,115.9 415.8,115.8 417.9,121.4 420.1,120.2 422.3,124.4 424.4,122.3 426.6,126.3 428.7,125.8 430.8,119.8 432.8,120.9 434.9,115.6 437.0,115.9 439.1,117.8 441.2,117.2 443.2,120.3 445.3,119.1 447.4,122.4 449.6,122.2 451.7,116.2 453.9,118.6 456.1,112.3 458.2,114.2 460.4,110.7 462.5,109.9 464.6,115.7 466.6,114.2 468.7,119.3 470.8,118.5 472.9,116.0 475.0,116.8 477.0,114.0 479.1,114.7 481.2,112.0 483.3,112.2 485.4,116.4 487.4,112.8 489.5,117.1 491.6,117.2" fill="none" stroke="#ff00ff" stroke-width="1.8" stroke-linejoin="round" stroke-linecap="round" /><polyline points="267.2,160.0 267.4,78.9 267.8,76.6 268.8,87.6 269.7,97.9 270.9,119.2 272.1,160.0 273.5,120.0 274.6,95.1 275.7,74.2 276.9,80.1 278.0,83.7 279.2,96.9 280.4,119.2 281.6,115.0 282.8,107.3 284.0,111.9 285.1,123.9 286.3,122.9 287.5,115.1 288.7,116.8 289.9,122.0 291.0,120.1 292.2,131.3 293.4,131.0 294.6,123.4 295.8,126.7 296.9,115.9 298.1,116.8 299.3,124.7 300.5,121.2 301.7,128.7 302.9,128.6 304.1,122.0 305.2,129.0 306.4,120.5 307.6,121.5 309.2,122.2 310.7,113.6 312.3,116.8 313.9,114.2 315.5,105.1 317.1,105.0 318.7,105.2 320.2,99.5 321.8,97.9 323.4,99.7 324.9,98.5 326.5,100.2 328.9,107.5 331.3,112.1 333.6,114.6 336.0,119.2 338.4,123.6 340.7,123.9 342.9,123.0 345.0,126.3 347.2,128.1 349.4,125.8 351.6,129.2 353.8,128.8 356.0,130.2 358.6,132.5 361.2,131.5 363.1,128.7 365.1,131.4 367.1,126.4 369.0,127.6 370.9,128.9 372.9,125.4 374.9,127.4 376.8,125.0 378.9,123.3 380.9,126.3 382.9,124.7 385.0,126.3 386.9,125.4 388.9,122.4 390.9,122.7 392.8,119.8 394.8,117.2 396.7,120.0 398.7,116.2 400.6,115.9 402.6,118.9 404.5,117.0 406.4,122.6 408.4,122.4 410.7,118.4 412.9,118.1 415.2,113.0 417.5,112.0 419.8,115.5 422.1,115.6 424.3,121.4 426.6,122.4 428.8,122.1 430.9,126.0 433.1,125.0 435.4,122.2 437.6,123.0 439.9,118.2 442.2,118.5 444.1,122.0 446.1,122.9 448.1,127.8 450.0,128.9 451.9,126.4 453.9,128.3 455.9,124.1 457.8,123.7 459.8,125.4 461.7,124.5 463.7,126.9 465.6,126.3 467.6,126.9 469.5,130.8 471.4,129.4 473.4,132.8 475.7,131.4 477.9,126.7 480.2,128.6 482.5,125.0 484.8,124.4 487.1,129.0 489.3,127.4 491.6,130.2" fill="none" stroke="#0000ff" stroke-width="1.8" stroke-linejoin="round" stroke-linecap="round" /><polyline points="267.2,160.0 267.4,102.6 268.6,114.4 269.7,126.3 270.9,141.1 272.1,154.7 273.3,129.3 274.5,109.3 275.7,83.7 276.9,84.8 278.0,88.4 279.2,109.1 280.4,121.5 281.6,116.4 282.7,119.5 283.9,116.8 285.1,113.2 286.3,121.2 287.5,118.1 288.7,121.5 289.9,123.6 291.0,117.0 292.2,121.3 293.4,119.2 294.6,117.8 295.8,128.2 296.9,123.2 298.1,128.6 299.3,131.0 300.5,121.6 301.7,127.6 302.9,121.5 304.1,121.0 305.2,126.3 306.4,122.2 307.6,126.3 309.2,128.5 310.7,122.9 312.3,128.6 313.9,126.6 315.5,116.3 317.1,112.1 318.7,110.1 320.2,103.0 321.8,100.2 323.4,101.8 324.9,101.1 326.5,102.6 328.9,109.8 331.3,114.4 333.6,116.2 336.0,119.2 338.4,124.2 340.7,126.3 343.0,125.0 345.1,124.7 347.2,127.7 349.2,126.1 351.3,129.7 353.4,130.2 355.3,131.1 357.3,135.3 359.2,134.2 361.2,136.7 363.1,136.3 365.1,132.0 367.1,133.0 369.0,130.2 371.1,127.6 373.2,128.9 375.2,125.0 377.3,125.5 379.4,123.7 381.3,120.5 383.1,122.0 385.0,119.8 386.9,117.7 388.9,117.7 390.9,113.1 392.8,113.3 394.8,115.2 396.7,112.7 398.7,115.6 400.6,114.6 402.6,112.8 404.5,114.2 406.4,110.6 408.4,110.7 410.7,110.3 412.9,108.1 415.2,108.4 417.5,106.8 419.7,107.3 421.8,113.1 424.0,113.3 426.2,114.1 428.3,119.3 430.5,121.1 432.8,118.1 435.1,118.7 437.3,113.2 439.6,112.0 441.6,113.7 443.5,112.5 445.4,116.5 447.4,115.9 449.3,114.8 451.3,117.8 453.2,115.9 455.2,117.2 457.1,116.9 459.1,112.7 461.1,114.0 463.0,110.7 464.9,110.8 466.9,114.4 468.9,112.4 470.8,115.9 472.9,115.8 475.0,112.6 477.0,114.7 479.1,110.9 481.2,112.0 483.3,114.5 485.4,112.1 487.4,115.9 489.5,114.3 491.6,115.9" fill="none" stroke="#ff0000" stroke-width="1.8" stroke-linejoin="round" stroke-linecap="round" /><polyline points="266.9,318.0 269.4,315.2 271.9,312.4 274.4,309.6 276.9,306.9 279.4,304.1 281.9,301.3 284.4,298.6 286.9,295.9 289.4,293.1 291.9,290.4 294.4,287.7 297.0,285.0 299.5,282.4 302.0,279.7 304.5,277.1 307.0,274.4 309.5,271.8 312.0,269.2 314.5,266.6 317.0,264.0 319.5,261.5 322.0,258.9 324.5,256.4 327.0,253.9 329.5,251.4 332.0,248.9 334.5,246.4 337.0,244.0 339.5,241.5 342.0,239.1 344.5,236.7 347.0,234.3 349.5,231.9 352.1,229.6 354.6,227.2 357.1,224.9 359.6,222.6 362.1,220.3 364.6,218.0 367.1,215.8 369.6,213.5 372.1,211.3 374.6,209.1 377.1,206.9 379.6,204.7 382.1,202.6 384.6,200.4 387.1,198.3 389.6,196.2 392.1,194.1 394.6,192.0 397.1,190.0 399.6,187.9 402.1,185.9 404.6,183.9 407.1,181.9 409.7,179.9 412.2,178.0 414.7,176.0 417.2,174.1 419.7,172.2 422.2,170.3 424.7,168.4 427.2,166.6 429.7,164.7 432.2,162.9 434.7,161.1 437.2,159.3 439.7,157.5 442.2,155.7 444.7,154.0 447.2,152.2 449.7,150.5 452.2,148.8 454.7,147.1 457.2,145.4 459.7,143.8 462.2,142.1 464.8,140.5 467.3,138.9 469.8,137.3 472.3,135.7 474.8,134.1 477.3,132.6 479.8,131.0 482.3,129.5 484.8,128.0 487.3,126.5 489.8,125.0 492.3,123.5" fill="none" stroke="#0f800f" stroke-width="2.2" stroke-linejoin="round" stroke-linecap="round" stroke-dasharray="6.8,7.5" stroke-linecap="butt"/><line x1="270" y1="120.9" x2="492" y2="120.9" stroke="#000" stroke-width="4.2" stroke-linecap="round" stroke-dasharray="0,7.05"/><text x="282.5" y="126.3" font-size="13.5" font-weight="bold">(c)</text><line x1="395.8" y1="255.9" x2="422.7" y2="255.9" stroke="#0000ff" stroke-width="1.8"/><text x="428" y="259.9" font-size="11.5">10 K</text><line x1="395.8" y1="270.0" x2="422.7" y2="270.0" stroke="#ff0000" stroke-width="1.8"/><text x="428" y="274.0" font-size="11.5">20 K</text><line x1="395.8" y1="283.8" x2="422.7" y2="283.8" stroke="#ff00ff" stroke-width="1.8"/><text x="428" y="287.8" font-size="11.5">30 K</text><line x1="395.8" y1="297.8" x2="422.7" y2="297.8" stroke="#00ffff" stroke-width="1.8"/><text x="428" y="301.8" font-size="11.5">60 K</text><line x1="395.8" y1="311.7" x2="422.7" y2="311.7" stroke="#ff8020" stroke-width="1.8"/><text x="428" y="315.7" font-size="11.5">90 K</text><text x="387.3" y="246.2" font-size="11.3">measurements:</text><line x1="387.7" y1="340.3" x2="409" y2="340.3" stroke="#000" stroke-width="4.5" stroke-linecap="round" stroke-dasharray="0,7"/><text x="418.5" y="343.5" font-size="11" style="font-family:'Liberation Serif'" font-style="italic">π</text><text x="424.5" y="343.5" font-size="11">/4</text><line x1="386.8" y1="354.6" x2="409.6" y2="354.6" stroke="#0f800f" stroke-width="2.2" stroke-dasharray="7.3,8.2"/><text x="418" y="359" font-size="11.5">Drude fit</text></g>
<line x1="91.05" y1="209.5" x2="91.05" y2="206.5" stroke="#000" stroke-width="1.5"/><line x1="91.05" y1="217.5" x2="91.05" y2="220.5" stroke="#000" stroke-width="1.5"/><line x1="91.05" y1="375.4" x2="91.05" y2="372.4" stroke="#000" stroke-width="1.5"/><line x1="113.31" y1="209.5" x2="113.31" y2="206.5" stroke="#000" stroke-width="1.5"/><line x1="113.31" y1="217.5" x2="113.31" y2="220.5" stroke="#000" stroke-width="1.5"/><line x1="113.31" y1="375.4" x2="113.31" y2="372.4" stroke="#000" stroke-width="1.5"/><line x1="129.10" y1="209.5" x2="129.10" y2="206.5" stroke="#000" stroke-width="1.5"/><line x1="129.10" y1="217.5" x2="129.10" y2="220.5" stroke="#000" stroke-width="1.5"/><line x1="129.10" y1="375.4" x2="129.10" y2="372.4" stroke="#000" stroke-width="1.5"/><line x1="141.35" y1="209.5" x2="141.35" y2="206.5" stroke="#000" stroke-width="1.5"/><line x1="141.35" y1="217.5" x2="141.35" y2="220.5" stroke="#000" stroke-width="1.5"/><line x1="141.35" y1="375.4" x2="141.35" y2="372.4" stroke="#000" stroke-width="1.5"/><line x1="151.36" y1="209.5" x2="151.36" y2="206.5" stroke="#000" stroke-width="1.5"/><line x1="151.36" y1="217.5" x2="151.36" y2="220.5" stroke="#000" stroke-width="1.5"/><line x1="151.36" y1="375.4" x2="151.36" y2="372.4" stroke="#000" stroke-width="1.5"/><line x1="159.82" y1="209.5" x2="159.82" y2="206.5" stroke="#000" stroke-width="1.5"/><line x1="159.82" y1="217.5" x2="159.82" y2="220.5" stroke="#000" stroke-width="1.5"/><line x1="159.82" y1="375.4" x2="159.82" y2="372.4" stroke="#000" stroke-width="1.5"/><line x1="167.15" y1="209.5" x2="167.15" y2="206.5" stroke="#000" stroke-width="1.5"/><line x1="167.15" y1="217.5" x2="167.15" y2="220.5" stroke="#000" stroke-width="1.5"/><line x1="167.15" y1="375.4" x2="167.15" y2="372.4" stroke="#000" stroke-width="1.5"/><line x1="173.62" y1="209.5" x2="173.62" y2="206.5" stroke="#000" stroke-width="1.5"/><line x1="173.62" y1="217.5" x2="173.62" y2="220.5" stroke="#000" stroke-width="1.5"/><line x1="173.62" y1="375.4" x2="173.62" y2="372.4" stroke="#000" stroke-width="1.5"/><line x1="179.40" y1="209.5" x2="179.40" y2="203.5" stroke="#000" stroke-width="1.5"/><line x1="179.40" y1="217.5" x2="179.40" y2="223.5" stroke="#000" stroke-width="1.5"/><line x1="179.40" y1="375.4" x2="179.40" y2="369.4" stroke="#000" stroke-width="1.5"/><line x1="217.45" y1="209.5" x2="217.45" y2="206.5" stroke="#000" stroke-width="1.5"/><line x1="217.45" y1="217.5" x2="217.45" y2="220.5" stroke="#000" stroke-width="1.5"/><line x1="217.45" y1="375.4" x2="217.45" y2="372.4" stroke="#000" stroke-width="1.5"/><line x1="239.71" y1="209.5" x2="239.71" y2="206.5" stroke="#000" stroke-width="1.5"/><line x1="239.71" y1="217.5" x2="239.71" y2="220.5" stroke="#000" stroke-width="1.5"/><line x1="239.71" y1="375.4" x2="239.71" y2="372.4" stroke="#000" stroke-width="1.5"/><line x1="79.25" y1="51.3" x2="79.25" y2="57.3" stroke="#000" stroke-width="1.5"/><line x1="101.51" y1="51.3" x2="101.51" y2="54.3" stroke="#000" stroke-width="1.5"/><line x1="117.30" y1="51.3" x2="117.30" y2="54.3" stroke="#000" stroke-width="1.5"/><line x1="129.55" y1="51.3" x2="129.55" y2="54.3" stroke="#000" stroke-width="1.5"/><line x1="139.56" y1="51.3" x2="139.56" y2="54.3" stroke="#000" stroke-width="1.5"/><line x1="148.02" y1="51.3" x2="148.02" y2="54.3" stroke="#000" stroke-width="1.5"/><line x1="155.35" y1="51.3" x2="155.35" y2="54.3" stroke="#000" stroke-width="1.5"/><line x1="161.81" y1="51.3" x2="161.81" y2="54.3" stroke="#000" stroke-width="1.5"/><line x1="167.60" y1="51.3" x2="167.60" y2="57.3" stroke="#000" stroke-width="1.5"/><line x1="205.65" y1="51.3" x2="205.65" y2="54.3" stroke="#000" stroke-width="1.5"/><line x1="227.91" y1="51.3" x2="227.91" y2="54.3" stroke="#000" stroke-width="1.5"/><line x1="243.70" y1="51.3" x2="243.70" y2="54.3" stroke="#000" stroke-width="1.5"/><line x1="53.0" y1="181.47" x2="56.0" y2="181.47" stroke="#000" stroke-width="1.5"/><line x1="255.7" y1="181.47" x2="252.7" y2="181.47" stroke="#000" stroke-width="1.5"/><line x1="53.0" y1="165.08" x2="56.0" y2="165.08" stroke="#000" stroke-width="1.5"/><line x1="255.7" y1="165.08" x2="252.7" y2="165.08" stroke="#000" stroke-width="1.5"/><line x1="53.0" y1="153.45" x2="56.0" y2="153.45" stroke="#000" stroke-width="1.5"/><line x1="255.7" y1="153.45" x2="252.7" y2="153.45" stroke="#000" stroke-width="1.5"/><line x1="53.0" y1="144.43" x2="56.0" y2="144.43" stroke="#000" stroke-width="1.5"/><line x1="255.7" y1="144.43" x2="252.7" y2="144.43" stroke="#000" stroke-width="1.5"/><line x1="53.0" y1="137.05" x2="56.0" y2="137.05" stroke="#000" stroke-width="1.5"/><line x1="255.7" y1="137.05" x2="252.7" y2="137.05" stroke="#000" stroke-width="1.5"/><line x1="53.0" y1="130.82" x2="56.0" y2="130.82" stroke="#000" stroke-width="1.5"/><line x1="255.7" y1="130.82" x2="252.7" y2="130.82" stroke="#000" stroke-width="1.5"/><line x1="53.0" y1="125.42" x2="56.0" y2="125.42" stroke="#000" stroke-width="1.5"/><line x1="255.7" y1="125.42" x2="252.7" y2="125.42" stroke="#000" stroke-width="1.5"/><line x1="53.0" y1="120.66" x2="56.0" y2="120.66" stroke="#000" stroke-width="1.5"/><line x1="255.7" y1="120.66" x2="252.7" y2="120.66" stroke="#000" stroke-width="1.5"/><line x1="53.0" y1="116.40" x2="59.0" y2="116.40" stroke="#000" stroke-width="1.5"/><line x1="255.7" y1="116.40" x2="249.7" y2="116.40" stroke="#000" stroke-width="1.5"/><line x1="53.0" y1="88.37" x2="56.0" y2="88.37" stroke="#000" stroke-width="1.5"/><line x1="255.7" y1="88.37" x2="252.7" y2="88.37" stroke="#000" stroke-width="1.5"/><line x1="53.0" y1="71.98" x2="56.0" y2="71.98" stroke="#000" stroke-width="1.5"/><line x1="255.7" y1="71.98" x2="252.7" y2="71.98" stroke="#000" stroke-width="1.5"/><line x1="53.0" y1="60.35" x2="56.0" y2="60.35" stroke="#000" stroke-width="1.5"/><line x1="255.7" y1="60.35" x2="252.7" y2="60.35" stroke="#000" stroke-width="1.5"/><line x1="53.0" y1="347.37" x2="56.0" y2="347.37" stroke="#000" stroke-width="1.5"/><line x1="255.7" y1="347.37" x2="252.7" y2="347.37" stroke="#000" stroke-width="1.5"/><line x1="53.0" y1="330.98" x2="56.0" y2="330.98" stroke="#000" stroke-width="1.5"/><line x1="255.7" y1="330.98" x2="252.7" y2="330.98" stroke="#000" stroke-width="1.5"/><line x1="53.0" y1="319.35" x2="56.0" y2="319.35" stroke="#000" stroke-width="1.5"/><line x1="255.7" y1="319.35" x2="252.7" y2="319.35" stroke="#000" stroke-width="1.5"/><line x1="53.0" y1="310.33" x2="56.0" y2="310.33" stroke="#000" stroke-width="1.5"/><line x1="255.7" y1="310.33" x2="252.7" y2="310.33" stroke="#000" stroke-width="1.5"/><line x1="53.0" y1="302.95" x2="56.0" y2="302.95" stroke="#000" stroke-width="1.5"/><line x1="255.7" y1="302.95" x2="252.7" y2="302.95" stroke="#000" stroke-width="1.5"/><line x1="53.0" y1="296.72" x2="56.0" y2="296.72" stroke="#000" stroke-width="1.5"/><line x1="255.7" y1="296.72" x2="252.7" y2="296.72" stroke="#000" stroke-width="1.5"/><line x1="53.0" y1="291.32" x2="56.0" y2="291.32" stroke="#000" stroke-width="1.5"/><line x1="255.7" y1="291.32" x2="252.7" y2="291.32" stroke="#000" stroke-width="1.5"/><line x1="53.0" y1="286.56" x2="56.0" y2="286.56" stroke="#000" stroke-width="1.5"/><line x1="255.7" y1="286.56" x2="252.7" y2="286.56" stroke="#000" stroke-width="1.5"/><line x1="53.0" y1="282.30" x2="59.0" y2="282.30" stroke="#000" stroke-width="1.5"/><line x1="255.7" y1="282.30" x2="249.7" y2="282.30" stroke="#000" stroke-width="1.5"/><line x1="53.0" y1="254.27" x2="56.0" y2="254.27" stroke="#000" stroke-width="1.5"/><line x1="255.7" y1="254.27" x2="252.7" y2="254.27" stroke="#000" stroke-width="1.5"/><line x1="53.0" y1="237.88" x2="56.0" y2="237.88" stroke="#000" stroke-width="1.5"/><line x1="255.7" y1="237.88" x2="252.7" y2="237.88" stroke="#000" stroke-width="1.5"/><line x1="53.0" y1="226.25" x2="56.0" y2="226.25" stroke="#000" stroke-width="1.5"/><line x1="255.7" y1="226.25" x2="252.7" y2="226.25" stroke="#000" stroke-width="1.5"/><line x1="291.94" y1="375.4" x2="291.94" y2="372.4" stroke="#000" stroke-width="1.5"/><line x1="316.99" y1="375.4" x2="316.99" y2="369.4" stroke="#000" stroke-width="1.5"/><line x1="342.03" y1="375.4" x2="342.03" y2="372.4" stroke="#000" stroke-width="1.5"/><line x1="367.08" y1="375.4" x2="367.08" y2="369.4" stroke="#000" stroke-width="1.5"/><line x1="392.12" y1="375.4" x2="392.12" y2="372.4" stroke="#000" stroke-width="1.5"/><line x1="417.17" y1="375.4" x2="417.17" y2="369.4" stroke="#000" stroke-width="1.5"/><line x1="442.21" y1="375.4" x2="442.21" y2="372.4" stroke="#000" stroke-width="1.5"/><line x1="467.26" y1="375.4" x2="467.26" y2="369.4" stroke="#000" stroke-width="1.5"/><line x1="492.30" y1="375.4" x2="492.30" y2="372.4" stroke="#000" stroke-width="1.5"/><line x1="277.41" y1="51.3" x2="277.41" y2="54.3" stroke="#000" stroke-width="1.5"/><line x1="297.61" y1="51.3" x2="297.61" y2="57.3" stroke="#000" stroke-width="1.5"/><line x1="317.81" y1="51.3" x2="317.81" y2="54.3" stroke="#000" stroke-width="1.5"/><line x1="338.01" y1="51.3" x2="338.01" y2="57.3" stroke="#000" stroke-width="1.5"/><line x1="358.21" y1="51.3" x2="358.21" y2="54.3" stroke="#000" stroke-width="1.5"/><line x1="378.41" y1="51.3" x2="378.41" y2="57.3" stroke="#000" stroke-width="1.5"/><line x1="398.61" y1="51.3" x2="398.61" y2="54.3" stroke="#000" stroke-width="1.5"/><line x1="418.81" y1="51.3" x2="418.81" y2="57.3" stroke="#000" stroke-width="1.5"/><line x1="439.01" y1="51.3" x2="439.01" y2="54.3" stroke="#000" stroke-width="1.5"/><line x1="459.21" y1="51.3" x2="459.21" y2="57.3" stroke="#000" stroke-width="1.5"/><line x1="479.41" y1="51.3" x2="479.41" y2="54.3" stroke="#000" stroke-width="1.5"/><line x1="266.9" y1="342.99" x2="269.9" y2="342.99" stroke="#000" stroke-width="1.5"/><line x1="492.3" y1="342.99" x2="489.3" y2="342.99" stroke="#000" stroke-width="1.5"/><line x1="266.9" y1="310.58" x2="272.9" y2="310.58" stroke="#000" stroke-width="1.5"/><line x1="492.3" y1="310.58" x2="486.3" y2="310.58" stroke="#000" stroke-width="1.5"/><line x1="266.9" y1="278.17" x2="269.9" y2="278.17" stroke="#000" stroke-width="1.5"/><line x1="492.3" y1="278.17" x2="489.3" y2="278.17" stroke="#000" stroke-width="1.5"/><line x1="266.9" y1="245.76" x2="272.9" y2="245.76" stroke="#000" stroke-width="1.5"/><line x1="492.3" y1="245.76" x2="486.3" y2="245.76" stroke="#000" stroke-width="1.5"/><line x1="266.9" y1="213.35" x2="269.9" y2="213.35" stroke="#000" stroke-width="1.5"/><line x1="492.3" y1="213.35" x2="489.3" y2="213.35" stroke="#000" stroke-width="1.5"/><line x1="266.9" y1="180.94" x2="272.9" y2="180.94" stroke="#000" stroke-width="1.5"/><line x1="492.3" y1="180.94" x2="486.3" y2="180.94" stroke="#000" stroke-width="1.5"/><line x1="266.9" y1="148.53" x2="269.9" y2="148.53" stroke="#000" stroke-width="1.5"/><line x1="492.3" y1="148.53" x2="489.3" y2="148.53" stroke="#000" stroke-width="1.5"/><line x1="266.9" y1="116.12" x2="272.9" y2="116.12" stroke="#000" stroke-width="1.5"/><line x1="492.3" y1="116.12" x2="486.3" y2="116.12" stroke="#000" stroke-width="1.5"/><line x1="266.9" y1="83.71" x2="269.9" y2="83.71" stroke="#000" stroke-width="1.5"/><line x1="492.3" y1="83.71" x2="489.3" y2="83.71" stroke="#000" stroke-width="1.5"/><rect x="53.0" y="51.3" width="202.7" height="158.2" fill="none" stroke="#000" stroke-width="2.0"/><rect x="53.0" y="217.5" width="202.7" height="157.89999999999998" fill="none" stroke="#000" stroke-width="2.0"/><rect x="266.9" y="51.3" width="225.40000000000003" height="324.09999999999997" fill="none" stroke="#000" stroke-width="2.0"/>
<text x="154.5" y="22" font-size="16" text-anchor="middle" textLength="154" lengthAdjust="spacingAndGlyphs">Photon energy (meV)</text><text x="380" y="22" font-size="16" text-anchor="middle" textLength="154" lengthAdjust="spacingAndGlyphs">Photon energy (meV)</text><text x="79.04865945170387" y="40.8" font-size="14.5" text-anchor="middle" >20</text><text x="167.79846799977665" y="40.8" font-size="14.5" text-anchor="middle" >100</text><text x="297.60989848888886" y="40.8" font-size="14.5" text-anchor="middle" >20</text><text x="338.00929217777775" y="40.8" font-size="14.5" text-anchor="middle" >30</text><text x="378.40868586666664" y="40.8" font-size="14.5" text-anchor="middle" >40</text><text x="418.80807955555554" y="40.8" font-size="14.5" text-anchor="middle" >50</text><text x="459.2074732444445" y="40.8" font-size="14.5" text-anchor="middle" >60</text><text x="45.5" y="213.6" font-size="14.5" text-anchor="end" >1</text><text x="46" y="120.8" font-size="14.5" text-anchor="end" >10</text><text x="45.5" y="379.6" font-size="14.5" text-anchor="end" >1</text><text x="46" y="287" font-size="14.5" text-anchor="end" >10</text><text x="52.5" y="393.4" font-size="14.5" text-anchor="middle" >100</text><text x="179.6" y="393.4" font-size="14.5" text-anchor="middle" >1000</text><text x="266.9" y="393.4" font-size="14.5" text-anchor="middle" >100</text><text x="316.9888888888889" y="393.4" font-size="14.5" text-anchor="middle" >200</text><text x="367.0777777777778" y="393.4" font-size="14.5" text-anchor="middle" >300</text><text x="417.1666666666667" y="393.4" font-size="14.5" text-anchor="middle" >400</text><text x="467.2555555555556" y="393.4" font-size="14.5" text-anchor="middle" >500</text><text x="499.5" y="379.9" font-size="14.5" text-anchor="start" >0.0</text><text x="499.5" y="315.08" font-size="14.5" text-anchor="start" >0.2</text><text x="499.5" y="250.26" font-size="14.5" text-anchor="start" >0.4</text><text x="499.5" y="185.44" font-size="14.5" text-anchor="start" >0.6</text><text x="499.5" y="120.62" font-size="14.5" text-anchor="start" >0.8</text><text x="499.5" y="55.80000000000001" font-size="14.5" text-anchor="start" >1.0</text><text x="99.5" y="414.5" font-size="15.5" text-anchor="start" textLength="107.5" lengthAdjust="spacingAndGlyphs">Frequency (cm</text><text x="206.8" y="408.5" font-size="8.5" text-anchor="start" >-1</text><text x="215.2" y="414.5" font-size="15.5" text-anchor="start" >)</text><text x="319.2" y="414.5" font-size="15.5" text-anchor="start" textLength="107.5" lengthAdjust="spacingAndGlyphs">Frequency (cm</text><text x="426.3" y="408.5" font-size="8.5" text-anchor="start" >-1</text><text x="433.6" y="414.5" font-size="15.5" text-anchor="start" >)</text><g transform="translate(21.6,188.5) rotate(-90) scale(1.1,1)"><text x="-0.5" y="0" font-size="14.5">σ</text><text x="8.5" y="4.6" font-size="8.5">1</text><text x="15" y="0" font-size="14.5">(</text><text x="22.5" y="0" font-size="14.5">10</text><text x="39.3" y="-9.6" font-size="8.5">3</text><text x="46.2" y="0" font-size="14.5">Ω</text><text x="58" y="-9.8" font-size="8.5">-1</text><text x="69" y="0" font-size="14.5">cm</text><text x="88.7" y="-9.8" font-size="8.5">-1</text><text x="97" y="0" font-size="14.5">)</text></g><g transform="translate(21.6,354) rotate(-90) scale(1.1,1)"><text x="-0.5" y="0" font-size="14.5">σ</text><text x="8.5" y="4.6" font-size="8.5">2</text><text x="15" y="0" font-size="14.5">(</text><text x="22.5" y="0" font-size="14.5">10</text><text x="39.3" y="-9.6" font-size="8.5">3</text><text x="46.2" y="0" font-size="14.5">Ω</text><text x="58" y="-9.8" font-size="8.5">-1</text><text x="69" y="0" font-size="14.5">cm</text><text x="88.7" y="-9.8" font-size="8.5">-1</text><text x="97" y="0" font-size="14.5">)</text></g><text transform="translate(531.6,207.5) rotate(90)" font-size="15.8" text-anchor="middle" textLength="166" lengthAdjust="spacingAndGlyphs">conductivity angle (rad)</text><text x="162" y="91" font-size="17.5" text-anchor="start" textLength="66" lengthAdjust="spacingAndGlyphs">CaMnBi</text><text x="228.3" y="98.6" font-size="10.5" text-anchor="start" textLength="7.5" lengthAdjust="spacingAndGlyphs">2</text><text x="64.8" y="199" font-size="14.5" text-anchor="start" font-weight="bold">(a)</text><text x="64.5" y="363.8" font-size="15" text-anchor="start" font-weight="bold">(b)</text><text x="282.7" y="363.5" font-size="14" text-anchor="start" font-weight="bold">(c)</text>
</svg></body></html>
